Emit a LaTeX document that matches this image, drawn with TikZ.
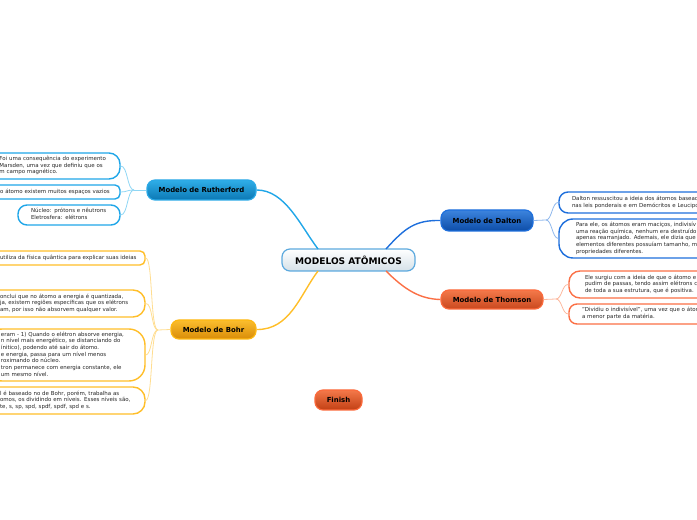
\documentclass[tikz,border=0pt]{standalone}
\usepackage{fontspec}
\setmainfont{DejaVu Sans}
\newlength\lfoff
\newcommand{\mainnode}[7]{\node[#6, minimum width={(#4-#2)*0.75pt}, minimum height={(#5-#3)*0.75pt}] (#1) at ({(#2+#4)/2},{(#3+#5)/2}) {#7};}
\newcommand{\leaf}[9]{\node[leafbox, #6, rounded corners=#7*0.75pt, minimum height={(#5-#3)*0.75pt}, text width={(#4-#2)*0.75pt}] (#1) at ({(#2+#4)/2},{(#3+#5)/2}) {\pgfmathsetlength\lfoff{(#8-#2)*0.75pt}\hspace*{\lfoff}\begin{tabular}{@{}l@{}}#9\end{tabular}};}
\tikzset{
  x=0.75pt, y=-0.75pt,
  topic/.style={rounded corners=6pt, inner sep=0pt, line width=0.9pt, font=\fontsize{5.2}{7}\selectfont\bfseries, text=black},
  leafbox/.style={draw, fill=white, line width=1.05pt, inner xsep=0pt, inner ysep=0pt, align=left, text=black!85, font=\fontsize{4.1}{5}\selectfont},
  central/.style={topic, draw=cblue, top color=white, bottom color=cgrey, font=\fontsize{6.8}{8}\selectfont\bfseries},
  rutherford/.style={topic, draw=rblue, top color=rtop, bottom color=rbot},
  bohr/.style={topic, draw=byel, top color=btop, bottom color=bbot},
  dalton/.style={topic, draw=dblue, top color=dtop, bottom color=dbot},
  thomson/.style={topic, draw=tred, top color=ttop, bottom color=tbot},
  finishbox/.style={topic, draw=tred, top color=ttop, bottom color=fbot},
  branch/.style={line width=1.05pt},
  twig/.style={line width=0.6pt},
}
\definecolor{cblue}{HTML}{5CA9DE}
\definecolor{cgrey}{HTML}{D5E1E8}
\definecolor{rblue}{HTML}{2BA9E6}
\definecolor{rtop}{HTML}{2FAEE8}
\definecolor{rbot}{HTML}{0C78B4}
\definecolor{rline}{HTML}{1FA6E8}
\definecolor{rtwig}{HTML}{8FD6F4}
\definecolor{byel}{HTML}{FDB813}
\definecolor{btop}{HTML}{FBBE2E}
\definecolor{bbot}{HTML}{D98C08}
\definecolor{bline}{HTML}{FFBE28}
\definecolor{btwig}{HTML}{FFDD90}
\definecolor{dblue}{HTML}{1E6FDC}
\definecolor{dtop}{HTML}{3C84DE}
\definecolor{dbot}{HTML}{0D4DA8}
\definecolor{dline}{HTML}{1E6FDC}
\definecolor{dtwig}{HTML}{90B8EC}
\definecolor{tred}{HTML}{FB6A3C}
\definecolor{ttop}{HTML}{F4794A}
\definecolor{tbot}{HTML}{C9481E}
\definecolor{fbot}{HTML}{C23F14}
\definecolor{tline}{HTML}{FB6F45}
\definecolor{ttwig}{HTML}{FCB89E}
\begin{document}
\begin{tikzpicture}
\useasboundingbox (0,0) rectangle (697,520);
\clip (0,0) rectangle (697,520);
\mainnode{M}{282}{249}{415}{271}{central}{MODELOS ATÔMICOS}
\mainnode{R}{147}{180}{256}{200}{rutherford}{Modelo de Rutherford}
\mainnode{B}{171}{320}{256}{339}{bohr}{Modelo de Bohr}
\mainnode{D}{441}{210}{533}{231}{dalton}{Modelo de Dalton}
\mainnode{T}{441}{290}{543}{309}{thomson}{Modelo de Thomson}
\mainnode{F}{315}{390}{362}{410}{finishbox}{Finish}
\coordinate (Mtl) at (318,249);
\coordinate (Mtr) at (386,249);
\coordinate (Mbl) at (318,271);
\coordinate (Mbr) at (386,271);
\coordinate (fR) at (134,190);
\coordinate (fB) at (158,330);
\coordinate (fD) at (546,220);
\coordinate (fT) at (556,299);
\draw[branch,rline] (Mtl) .. controls (300,225) and (285,190) .. (R.east);
\draw[branch,bline] (Mbl) .. controls (300,295) and (290,330) .. (B.east);
\draw[branch,dline] (Mtr) .. controls (405,228) and (415,220) .. (D.west);
\draw[branch,tline] (Mbr) .. controls (405,290) and (420,299) .. (T.west);
\leaf{R1}{-14}{153}{120}{179}{draw=rline}{11}{-0.5}{Foi uma consequência do experimento\\Marsden, uma vez que definiu que os\\m campo magnético.}
\leaf{R2}{-14}{185}{120}{199}{draw=rline}{5}{-4}{No átomo existem muitos espaços vazios}
\leaf{R3}{18}{205}{120}{225}{draw=rline}{9}{31}{Núcleo: prótons e nêutrons\\Eletrosfera: elétrons}
\leaf{B1}{-14}{251}{145}{265}{draw=bline}{5}{0}{utiliza da física quântica para explicar suas ideias}
\leaf{B2}{-14}{290}{145}{317}{draw=bline}{12}{0}{onclui que no átomo a energia é quantizada,\\ja, existem regiões específicas que os elétrons\\am, por isso não absorvem qualquer valor.}
\leaf{B3}{-14}{329}{145}{381}{draw=bline}{16}{1}{eram - 1) Quando o elétron absorve energia,\\n nível mais energético, se distanciando do\\ínitico), podendo até sair do átomo.\\e energia, passa para um nível menos\\roximando do núcleo.\\tron permanece com energia constante, ele\\ um mesmo nível.}
\leaf{B4}{-14}{387}{145}{414}{draw=bline}{12}{0}{l é baseado no de Bohr, porém, trabalha as\\omos, os dividindo em níveis. Esses níveis são,\\te, s, sp, spd, spdf, spdf, spd e s.}
\leaf{D1}{559}{192}{800}{213}{draw=dline}{9}{572}{Dalton ressuscitou a ideia dos átomos basead\\nas leis ponderais e em Demócritos e Leucipo}
\leaf{D2}{559}{219}{800}{258}{draw=dline}{14}{576}{Para ele, os átomos eram maciços, indivisív\\uma reação química, nenhum era destruído\\apenas rearranjado. Ademais, ele dizia que\\elementos diferentes possuíam tamanho, m\\propriedades diferentes.}
\leaf{T1}{569}{271}{800}{298}{draw=tline}{11}{585}{Ele surgiu com a ideia de que o átomo e\\pudim de passas, tendo assim elétrons c\\de toda a sua estrutura, que é positiva.}
\leaf{T2}{569}{304}{800}{324}{draw=tline}{8}{582}{"Dividiu o indivisível", uma vez que o átor\\a menor parte da matéria.}
\draw[twig,rtwig] (R.west) -- (fR);
\draw[twig,rtwig] (fR) .. controls (127,190) and (128,166) .. (R1.east);
\draw[twig,rtwig] (fR) .. controls (127,190) and (127,192) .. (R2.east);
\draw[twig,rtwig] (fR) .. controls (127,190) and (128,215) .. (R3.east);
\draw[twig,btwig] (B.west) -- (fB);
\draw[twig,btwig] (fB) .. controls (150,330) and (153,258) .. (B1.east);
\draw[twig,btwig] (fB) .. controls (151,330) and (153,303) .. (B2.east);
\draw[twig,btwig] (fB) .. controls (151,330) and (152,355) .. (B3.east);
\draw[twig,btwig] (fB) .. controls (150,330) and (153,400) .. (B4.east);
\draw[twig,dtwig] (D.east) -- (fD);
\draw[twig,dtwig] (fD) .. controls (552,220) and (552,202) .. (D1.west);
\draw[twig,dtwig] (fD) .. controls (552,220) and (552,238) .. (D2.west);
\draw[twig,ttwig] (T.east) -- (fT);
\draw[twig,ttwig] (fT) .. controls (562,299) and (562,284) .. (T1.west);
\draw[twig,ttwig] (fT) .. controls (562,299) and (562,314) .. (T2.west);
\end{tikzpicture}
\end{document}
